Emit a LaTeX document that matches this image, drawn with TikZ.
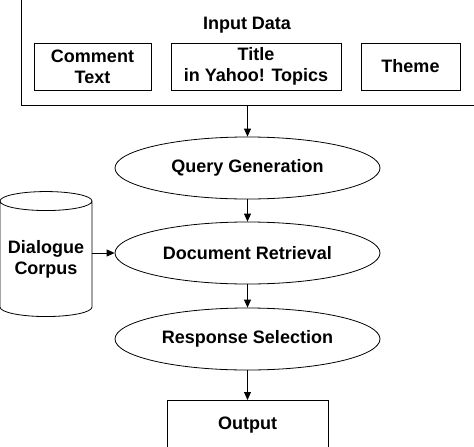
\documentclass[tikz,border=0pt]{standalone}
\usepackage{fontspec}
\setmainfont{Liberation Sans}
\usetikzlibrary{shapes.geometric, arrows.meta, positioning}

\tikzset{
  txt/.style={font=\bfseries\fontsize{18}{21}\selectfont, align=center},
  box/.style={txt, draw, rectangle, line width=0.8pt, inner sep=0pt},
  proc/.style={txt, draw, ellipse, line width=0.8pt, minimum width=265pt, minimum height=62pt, inner sep=0pt},
  flow/.style={-{Triangle[length=8pt,width=7pt]}, line width=0.8pt}
}

\begin{document}
\begin{tikzpicture}[x=1pt,y=-1pt]
		%picture area
		\useasboundingbox (0,0) rectangle (474,447);
		\clip (0,0) rectangle (474,447);
		
		%input data frame, cut at top and right
		\node[box, anchor=south west, minimum width=480pt, minimum height=140pt] (input) at (21,106) {};
		\node[txt] (input title) at (247,25) {Input Data};
		\node[box, minimum width=117pt, minimum height=47pt] (comment) at (92.5,66.5) {Comment\\Text};
		\node[box, minimum width=170pt, minimum height=47pt] (title) at (256,66.5) {Title\\in Yahoo! Topics};
		\node[box, minimum width=99pt, minimum height=47pt] (theme) at (410.5,66.5) {Theme};
		
		%processing steps
		\node[proc] (query) at (247.5,168) {Query Generation};
		\node[proc] (retrieval) at (247.5,253) {Document Retrieval};
		\node[proc] (selection) at (247.5,339) {Response Selection};
		\node[box, anchor=north, minimum width=161pt, minimum height=50pt] (output) at (247.5,400) {Output};
		
		%corpus
		\node[txt, draw, cylinder, shape border rotate=90, aspect=0.25, line width=0.8pt,
			minimum width=92pt, minimum height=125pt, inner sep=0pt] (corpus) at (46,259) {Dialogue\\Corpus};
		
		%arrows
		\draw[flow] (input.south -| query.north) -- (query.north);
		\draw[flow] (query) -- (retrieval);
		\draw[flow] (retrieval) -- (selection);
		\draw[flow] (selection) -- (output);
		\draw[flow] (corpus.east |- retrieval.west) -- (retrieval.west);
\end{tikzpicture}
\end{document}
